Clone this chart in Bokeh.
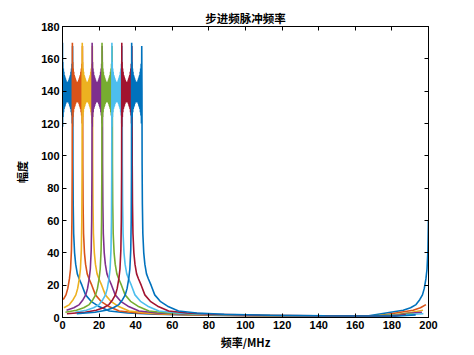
from bokeh.plotting import figure
from bokeh.models import Range1d, FixedTicker, LinearAxis
from bokeh.embed import file_html
from bokeh.resources import INLINE

# ---- data ----
title_text = "步进频脉冲频率"
x_label = "频率/MHz"
y_label = "幅度"
x_ticks = [0, 20, 40, 60, 80, 100, 120, 140, 160, 180, 200]
y_ticks = [0, 20, 40, 60, 80, 100, 120, 140, 160, 180]

# start frequency (MHz) of each stepped sub-band
band_starts = [0.0, 5.4, 10.8, 16.2, 21.6, 27.0, 32.4, 37.8]
band_width = 5.6
wrap_gap = 0.2
colors = ["#0072BD", "#D95319", "#EDB120", "#7E2F8E",
          "#77AC30", "#4DBEEE", "#A2142F", "#0072BD"]

# in-band spectrum: offset from band start (MHz) and amplitude
band_dx = [0.0, 0.06, 0.18, 0.3, 0.44, 0.58, 0.72, 0.86, 1.0, 1.14, 1.28, 1.42,
           1.56, 1.7, 1.84, 1.98, 2.12, 2.26, 2.4, 2.54, 2.68, 2.82, 2.96, 3.1,
           3.24, 3.38, 3.52, 3.66, 3.8, 3.94, 4.08, 4.22, 4.36, 4.5, 4.64, 4.78,
           4.92, 5.06, 5.2, 5.34, 5.5]
band_amp = [170, 118, 158, 124, 154, 127, 152, 129, 150, 130, 149, 131,
            148, 132, 147, 133, 146, 133, 146, 134, 145, 134, 146, 133,
            146, 133, 147, 132, 148, 131, 149, 130, 150, 129, 152, 127,
            154, 125, 157, 120, 168]

# skirt below the band: distance from lower edge (MHz) and amplitude
left_d = [0.03, 0.1, 0.25, 0.5, 1.0, 1.6, 2.5, 3.5, 5, 7, 10, 14, 20, 30, 45, 70, 100, 130]
left_amp = [140, 90, 60, 42, 30, 24, 18, 14, 11, 8, 6, 4.5, 3.2, 2.3, 1.6, 1.1, 0.9, 0.8]

# skirt above the band: distance from upper edge (MHz) and amplitude
right_d = [0.03, 0.1, 0.25, 0.5, 1.0, 1.6, 2.5, 3.5, 5, 7, 10, 14, 20, 30, 45, 70, 100, 140, 160]
right_amp = [140, 95, 70, 52, 40, 33, 27, 24, 20, 14, 10, 7, 4, 2.8, 2.0, 1.4, 1.1, 0.9, 0.8]
wrap_cut = 186

# ---- figure ----
p = figure(width=474, height=355, output_backend="svg", toolbar_location=None,
           x_range=Range1d(0, 200), y_range=Range1d(0, 180),
           min_border_left=62, min_border_right=46, min_border_top=26,
           min_border_bottom=38, background_fill_color="white",
           border_fill_color="white")

for k, s in enumerate(band_starts):
    xs, ys = [], []
    for d, a in reversed(list(zip(left_d, left_amp))):
        if s - d >= 0:
            xs.append(s - d); ys.append(a)
    for dx, a in zip(band_dx, band_amp):
        xs.append(s + dx); ys.append(a)
    e = s + band_width
    for d, a in zip(right_d, right_amp):
        if e + d < wrap_cut:
            xs.append(e + d); ys.append(a)
    w = 200 + s + wrap_gap
    for d, a in reversed(list(zip(left_d, left_amp))):
        if wrap_cut <= w - d <= 200:
            xs.append(w - d); ys.append(a)
    p.line(xs, ys, line_color=colors[k], line_width=1.6)

p.title.text = title_text
p.title.align = "center"
p.title.text_font = "Noto Sans CJK SC"
p.title.text_font_size = "11.5px"
p.title.text_font_style = "bold"
p.title.text_color = "black"
p.title.standoff = 2
p.title.offset = 0

p.grid.visible = False
p.outline_line_color = "black"
p.outline_line_width = 1

for ax in (p.xaxis[0], p.yaxis[0]):
    ax.major_label_text_font = "Liberation Sans"
    ax.major_label_text_font_style = "bold"
    ax.major_label_text_font_size = "11px"
    ax.major_label_text_color = "black"
    ax.major_tick_in = 4
    ax.major_tick_out = 0
    ax.minor_tick_line_color = None
    ax.axis_line_color = "black"
    ax.major_tick_line_color = "black"
    ax.axis_label_text_font = "Noto Sans CJK SC"
    ax.axis_label_text_font_style = "bold"
    ax.axis_label_text_font_size = "11px"
    ax.axis_label_text_color = "black"
    ax.major_label_standoff = 3

p.xaxis[0].axis_label_standoff = 2
p.yaxis[0].axis_label_standoff = 8
p.xaxis[0].ticker = FixedTicker(ticks=x_ticks)
p.yaxis[0].ticker = FixedTicker(ticks=y_ticks)
p.xaxis[0].axis_label = x_label
p.yaxis[0].axis_label = y_label

top = LinearAxis(ticker=FixedTicker(ticks=x_ticks),
                 major_label_overrides={t: "" for t in x_ticks},
                 major_tick_in=4, major_tick_out=0, minor_tick_line_color=None,
                 major_label_standoff=0, axis_line_color="black")
right = LinearAxis(ticker=FixedTicker(ticks=y_ticks),
                   major_label_overrides={t: "" for t in y_ticks},
                   major_tick_in=4, major_tick_out=0, minor_tick_line_color=None,
                   major_label_standoff=0, axis_line_color="black")
p.add_layout(top, "above")
p.add_layout(right, "right")

open("out.html", "w").write(file_html(p, INLINE))
